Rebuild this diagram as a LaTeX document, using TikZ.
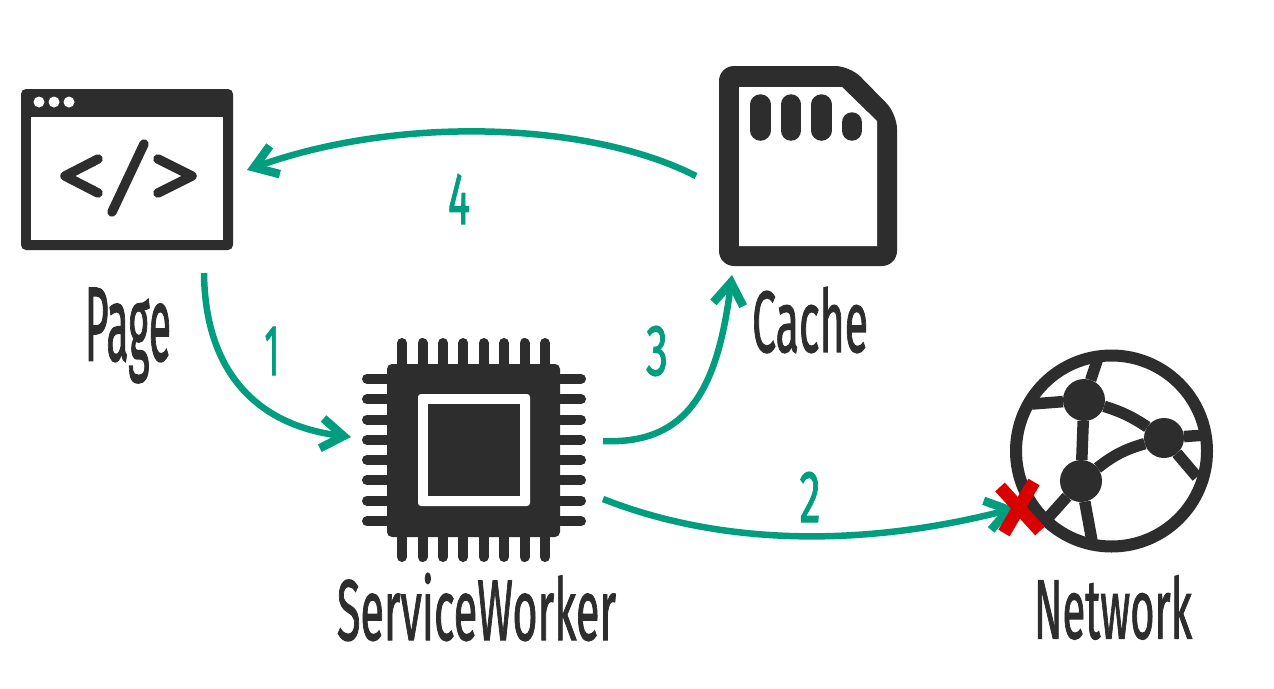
\documentclass[tikz,border=0pt]{standalone}
\usepackage{fontspec}
\setmainfont[FakeBold=1.6]{Fira Sans}
\usetikzlibrary{arrows.meta}
\definecolor{ink}{HTML}{2D2D2D}
\definecolor{flow}{HTML}{009E7F}
\definecolor{cross}{HTML}{D90000}
\tikzset{
  iconbox/.style={fill=ink,inner sep=0pt,outer sep=0pt,rounded corners=5pt},
  hole/.style={fill=white,inner sep=0pt,outer sep=0pt},
  stroke/.style={draw=ink,line cap=round,line join=round,line width=#1},
  pin/.style={draw=ink,line cap=round,line width=10pt},
  wire/.style={draw=ink,line width=11.5pt},
  hub/.style={circle,fill=ink,inner sep=0pt,outer sep=0pt,minimum size=#1},
  flowline/.style={draw=flow,line width=6.5pt,-{Straight Barb[length=22pt,width=30pt,line width=8.5pt]}},
  caption/.style={text=ink,inner sep=0pt,outer sep=0pt},
  stepnum/.style={text=flow,inner sep=0pt,outer sep=0pt}
}
\begin{document}
\begin{tikzpicture}[x=1pt,y=-1pt]
\useasboundingbox (0,0) rectangle (1274,688);
\fill[white] (0,0) rectangle (1274,688);

% Page icon
\node[iconbox,minimum width=212pt,minimum height=161pt] (page) at (127,169.5) {};
\node[hole,minimum width=192pt,minimum height=123pt] (pagebody) at (127,178.5) {};
\foreach \px in {39,54,69} \fill[white] (\px,102) circle[radius=5.5pt];
\draw[stroke=9.5pt] (98,159) -- (65,176) -- (98,193);
\draw[stroke=9.5pt] (158,159) -- (192,176) -- (158,193);
\draw[stroke=9.5pt] (144,144) -- (112,212);
\node[caption] (pagelabel) at (128,335.5) {\resizebox*{86pt}{95pt}{Page}};

% Cache icon
\fill[ink,rounded corners=15pt] (719,66) -- (850,66) -- (897,114) -- (897,266) -- (719,266) -- cycle;
\fill[white] (739,87) -- (842,87) -- (877,121) -- (877,246) -- (739,246) -- cycle;
\foreach \cx in {760.5,791,821.5} \draw[stroke=20.5pt] (\cx,104.5) -- (\cx,130.5);
\draw[stroke=20.5pt] (852,122.5) -- (852,130.5);
\node[caption] (cachelabel) at (810,320) {\resizebox*{116pt}{66pt}{Cache}};

% ServiceWorker chip
\foreach \pinx in {402,422.5,443,463.3,483.7,504,524.5,545}
  \draw[pin] (\pinx,343) -- (\pinx,557);
\foreach \piny in {378.7,399.3,419.7,440,460,480.3,500.7,521.3}
  \draw[pin] (367,\piny) -- (581,\piny);
\node[iconbox,minimum width=173pt,minimum height=173pt] (chip) at (473.5,450.5) {};
\node[hole,rounded corners=3pt,minimum width=112pt,minimum height=112pt] (chipring) at (474,450) {};
\node[fill=ink,inner sep=0pt,outer sep=0pt,minimum width=92pt,minimum height=92pt] (chipcore) at (474,450) {};
\node[caption] (chiplabel) at (476.5,607) {\resizebox*{279pt}{68pt}{ServiceWorker}};

% Network globe
\node[circle,draw=ink,line width=12pt,inner sep=0pt,outer sep=0pt,minimum size=191pt] (globe) at (1111.5,451) {};
\node[hub=42pt] (hubA) at (1084,400) {};
\node[hub=40pt] (hubB) at (1164,438) {};
\node[hub=42pt] (hubC) at (1081,481) {};
\draw[wire] (hubA) -- (1098,358);
\draw[wire] (hubA) -- (1032,404);
\draw[wire] (hubA) to[bend left=8] (hubB);
\draw[wire] (hubA) -- (hubC);
\draw[wire] (hubC) to[bend left=11] (hubB);
\draw[wire] (hubB) -- (1206,435);
\draw[wire] (hubB) -- (1197,477);
\draw[wire] (hubC) -- (1047,519);
\draw[wire] (hubC) -- (1092,541);
\node[caption] (globelabel) at (1113,607.5) {\resizebox*{158pt}{64pt}{Network}};

% Connectors
\coordinate (pageout) at (204,273);
\coordinate (chipin) at (351,437);
\coordinate (chipup) at (603,441);
\coordinate (cachein) at (732,275);
\coordinate (chipdown) at (603,499);
\coordinate (netin) at (1016,508);
\coordinate (cacheout) at (696,176);
\coordinate (pagein) at (247,170);
\draw[flowline] (pageout) .. controls (205,370) and (255,425) .. (chipin);
\draw[flowline] (chipup) .. controls (690,445) and (718,385) .. (cachein);
\draw[flowline] (chipdown) .. controls (720,545) and (860,548) .. (netin);
\draw[flowline] (cacheout) .. controls (590,122) and (400,115) .. (pagein);

% Step numbers
\node[stepnum] (stepone) at (272,351) {\resizebox*{15pt}{48pt}{1}};
\node[stepnum] (steptwo) at (810,497) {\resizebox*{21pt}{50pt}{2}};
\node[stepnum] (stepthree) at (657,351) {\resizebox*{22pt}{50pt}{3}};
\node[stepnum] (stepfour) at (459,199) {\resizebox*{22pt}{50pt}{4}};

% Failure mark
\draw[cross,line width=13pt] (1034,482) -- (1004,533);
\draw[cross,line width=13pt] (1000,487) -- (1040,531);
\end{tikzpicture}
\end{document}
